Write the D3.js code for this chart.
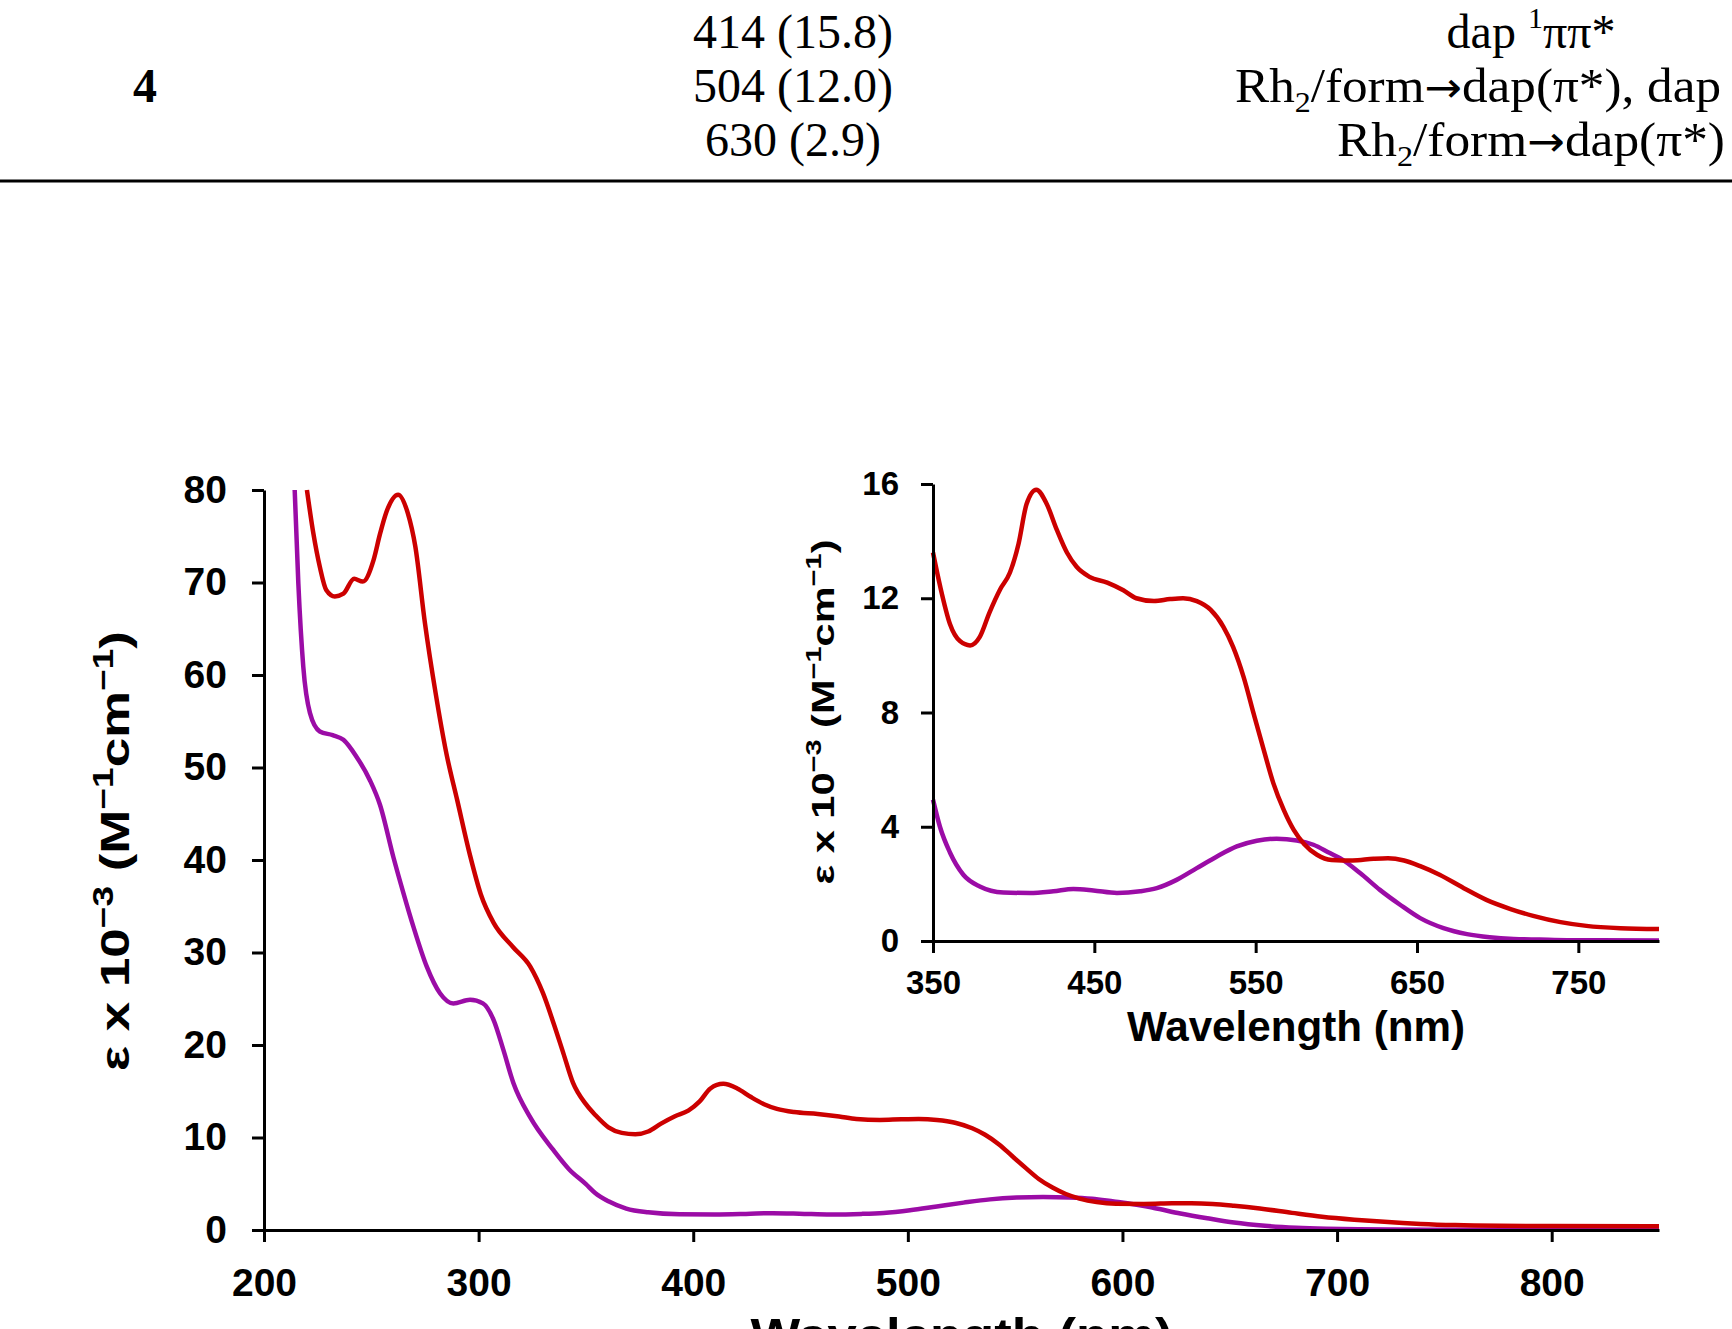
<!DOCTYPE html>
<html lang="en">
<head>
<meta charset="UTF-8">
<title>Absorption spectra</title>
<style>
  body { margin: 0; background: #fff; }
  svg { display: block; }
</style>
</head>
<body>
<svg></svg>
<script src="https://cdn.jsdelivr.net/npm/d3@7/dist/d3.min.js"></script>
<script>
    // table rows above the figure
    const bandLabels = ["414 (15.8)", "504 (12.0)", "630 (2.9)"];
    const assignParts = [
        [["dap ", null], ["1", "sup"], ["ππ*", null]],
        [["Rh", null], ["2", "sub"], ["/form", null], ["→", "arrow"], ["dap(π*), dap", null]],
        [["Rh", null], ["2", "sub"], ["/form", null], ["→", "arrow"], ["dap(π*)", null]]
    ];
    const assignAnchor = ["middle", "end", "middle"];
    const assignWidth = [null, 486, 388];
    const compoundLabel = "4";

    // red spectrum (wavelength nm, eps x 10^-3)
    const redWl = [220, 223, 226, 229, 233, 237, 242, 246, 251, 254, 257, 262.5, 267, 270.5, 275,
        280, 285, 290, 296, 301, 307, 316, 324, 330, 335, 339.5, 344, 350, 354.5, 360.5,
        366.7, 373, 379, 385, 391.5, 397.7, 403, 408, 414, 420.5, 426.7, 433, 439, 447, 458, 468, 476,
        487, 497, 505, 513.5, 522, 530, 536, 542.5, 548.7, 555, 561, 567.4, 573.6, 580, 588, 597, 610,
        623, 632, 642, 652, 664, 679, 693, 708, 722, 739, 755, 776, 800, 850];
    const redEps = [80, 75.3, 71.7, 69.2, 68.5, 68.8, 70.4, 70.1, 72.4, 75.2, 77.6, 79.5, 77.5, 73.9, 65.6,
        58, 51.5, 46.5, 40.5, 36.3, 33.2, 30.6, 28.5, 25.6, 22.3, 19.1, 15.9, 13.6, 12.4, 11.1,
        10.5, 10.35, 10.65, 11.5, 12.3, 12.9, 13.9, 15.3, 15.8, 15.3, 14.4, 13.6, 13.1, 12.75, 12.55, 12.28, 12.0,
        11.9, 11.97, 12.0, 11.9, 11.6, 11.0, 10.3, 9.25, 7.97, 6.69, 5.52, 4.59, 3.89, 3.4, 3.02, 2.84, 2.82,
        2.88, 2.9, 2.82, 2.62, 2.32, 1.85, 1.44, 1.12, 0.88, 0.66, 0.53, 0.45, 0.42, 0.40];

    // purple spectrum
    const purpleWl = [214.3, 216, 218.3, 221.4, 226, 232, 237, 243, 249.4, 254, 260.3, 265, 269.6, 275.8,
        282, 288.2, 296, 302, 307, 311.5, 316.2, 324, 334.8, 342, 350, 354.3, 360.5, 368.8, 379, 393.6,
        410, 424.6, 437, 449.4, 464, 478.4, 488.7, 501, 513.5, 526, 538.3, 550.7, 563, 575.5, 585.8, 596,
        602.3, 614.7, 627, 639.5, 652, 666.4, 681, 695, 710, 726, 743, 800, 850];
    const purpleEps = [80, 69.9, 60.9, 55.9, 53.9, 53.5, 53, 51.2, 48.6, 46, 40.3, 36.4, 32.8, 28.5,
        25.6, 24.5, 24.9, 24.5, 22.7, 19.5, 15.9, 12.2, 8.65, 6.6, 4.95, 4.0, 3.1, 2.32, 1.91, 1.70,
        1.68, 1.74, 1.82, 1.77, 1.68, 1.74, 1.85, 2.14, 2.55, 2.96, 3.31, 3.51, 3.58, 3.52, 3.37, 3.08,
        2.9, 2.38, 1.79, 1.27, 0.80, 0.45, 0.24, 0.13, 0.07, 0.05, 0.03, 0.02, 0.02];

    const mainXTicks = [200, 300, 400, 500, 600, 700, 800];
    const mainYTicks = [0, 10, 20, 30, 40, 50, 60, 70, 80];
    const insetXTicks = [350, 450, 550, 650, 750];
    const insetYTicks = [0, 4, 8, 12, 16];

    const width = 1732, height = 1329;
    const red = "#cc0000", purple = "#9b0ca6";
    const sans = "'Liberation Sans', Arial, sans-serif";
    const serif = "'Liberation Serif', 'Times New Roman', serif";

    const svg = d3.select("svg")
        .attr("width", width)
        .attr("height", height)
        .attr("viewBox", `0 0 ${width} ${height}`);

    // writes text made of plain / sup / sub / arrow pieces
    function rich(text, parts, small, rise, drop) {
        let prev = 0;
        parts.forEach(([s, kind]) => {
            const off = kind === "sup" ? -rise : kind === "sub" ? drop : 0;
            const t = text.append("tspan")
                .attr("dy", off - prev)
                .text(s);
            if (kind === "sup" || kind === "sub") t.attr("font-size", small);
            if (kind === "arrow") t.attr("font-family", "'DejaVu Sans', sans-serif").attr("font-size", 42);
            prev = off;
        });
    }

    // ---- table
    const table = svg.append("g")
        .attr("font-family", serif)
        .attr("font-size", 48)
        .attr("fill", "#000");
    const rowY = [48, 102, 156];

    table.append("text")
        .attr("x", 145).attr("y", rowY[1])
        .attr("text-anchor", "middle")
        .attr("font-weight", "bold")
        .text(compoundLabel);

    table.selectAll("text.band")
        .data(bandLabels)
        .enter().append("text")
        .attr("class", "band")
        .attr("x", 793)
        .attr("y", (d, i) => rowY[i])
        .attr("text-anchor", "middle")
        .text(d => d);

    assignParts.forEach((parts, i) => {
        const t = table.append("text")
            .attr("x", assignAnchor[i] === "end" ? 1721 : 1531)
            .attr("y", rowY[i])
            .attr("text-anchor", assignAnchor[i]);
        if (assignWidth[i]) t.attr("textLength", assignWidth[i]).attr("lengthAdjust", "spacingAndGlyphs");
        rich(t, parts, 30, 20, 10);
    });

    svg.append("line")
        .attr("x1", 0).attr("x2", width)
        .attr("y1", 181).attr("y2", 181)
        .attr("stroke", "#000")
        .attr("stroke-width", 3);

    // ---- panels
    function styleAxis(g, size) {
        g.select(".domain").attr("stroke", "#000").attr("stroke-width", 3);
        g.selectAll(".tick line").attr("stroke", "#000").attr("stroke-width", 3);
        g.selectAll(".tick text")
            .attr("fill", "#000")
            .attr("font-family", sans)
            .attr("font-weight", "bold")
            .attr("font-size", size);
    }

    function panel(cfg) {
        const x = d3.scaleLinear().domain(cfg.xDomain).range([cfg.left, cfg.right]);
        const y = d3.scaleLinear().domain(cfg.yDomain).range([cfg.bottom, cfg.top]);
        const g = svg.append("g");

        const line = d3.line()
            .x(d => x(d[0]))
            .y(d => y(d[1]))
            .curve(d3.curveMonotoneX);

        const inRange = d => d[0] >= cfg.xDomain[0] && d[0] <= cfg.xDomain[1];

        [[purpleWl, purpleEps, purple], [redWl, redEps, red]].forEach(([wl, eps, c]) => {
            g.append("path")
                .datum(d3.zip(wl, eps).filter(inRange))
                .attr("fill", "none")
                .attr("stroke", c)
                .attr("stroke-width", 4.5)
                .attr("stroke-linejoin", "round")
                .attr("d", line);
        });

        g.append("g")
            .attr("transform", `translate(0,${cfg.bottom})`)
            .call(d3.axisBottom(x).tickValues(cfg.xTicks).tickSize(12).tickSizeOuter(0)
                .tickPadding(cfg.xPad).tickFormat(d3.format("d")))
            .call(a => styleAxis(a, cfg.tickFont));

        g.append("g")
            .attr("transform", `translate(${cfg.left},0)`)
            .call(d3.axisLeft(y).tickValues(cfg.yTicks).tickSize(12).tickSizeOuter(0)
                .tickPadding(cfg.yPad).tickFormat(d3.format("d")))
            .call(a => styleAxis(a, cfg.tickFont));

        // y title
        const yt = g.append("text")
            .attr("transform", `translate(${cfg.yTitleX},${cfg.yTitleMid}) rotate(-90)`)
            .attr("text-anchor", "middle")
            .attr("font-family", sans)
            .attr("font-weight", "bold")
            .attr("font-size", cfg.yTitleFont)
            .attr("textLength", cfg.yTitleLen)
            .attr("lengthAdjust", "spacingAndGlyphs");
        rich(yt, [["ε x 10", null], ["−3", "sup"], [" (M", null], ["−1", "sup"], ["cm", null], ["−1", "sup"], [")", null]],
            cfg.yTitleFont * 0.7, cfg.yTitleFont * 0.4, 0);

        // x title
        g.append("text")
            .attr("x", (cfg.left + cfg.right) / 2)
            .attr("y", cfg.xTitleY)
            .attr("text-anchor", "middle")
            .attr("font-family", sans)
            .attr("font-weight", "bold")
            .attr("font-size", cfg.xTitleFont)
            .attr("textLength", cfg.xTitleLen)
            .attr("lengthAdjust", "spacingAndGlyphs")
            .text("Wavelength (nm)");
    }

    panel({
        xDomain: [200, 850], yDomain: [0, 80],
        left: 264, right: 1659, top: 490, bottom: 1230,
        xTicks: mainXTicks, yTicks: mainYTicks,
        tickFont: 39, xPad: 26, yPad: 25,
        yTitleX: 129, yTitleMid: 851, yTitleFont: 41, yTitleLen: 440,
        xTitleY: 1351, xTitleFont: 46, xTitleLen: 422
    });

    panel({
        xDomain: [350, 800], yDomain: [0, 16],
        left: 933, right: 1659, top: 484, bottom: 941,
        xTicks: insetXTicks, yTicks: insetYTicks,
        tickFont: 33, xPad: 18, yPad: 22,
        yTitleX: 834, yTitleMid: 712, yTitleFont: 32, yTitleLen: 345,
        xTitleY: 1041, xTitleFont: 42, xTitleLen: 338
    });
</script>
</body>
</html>
